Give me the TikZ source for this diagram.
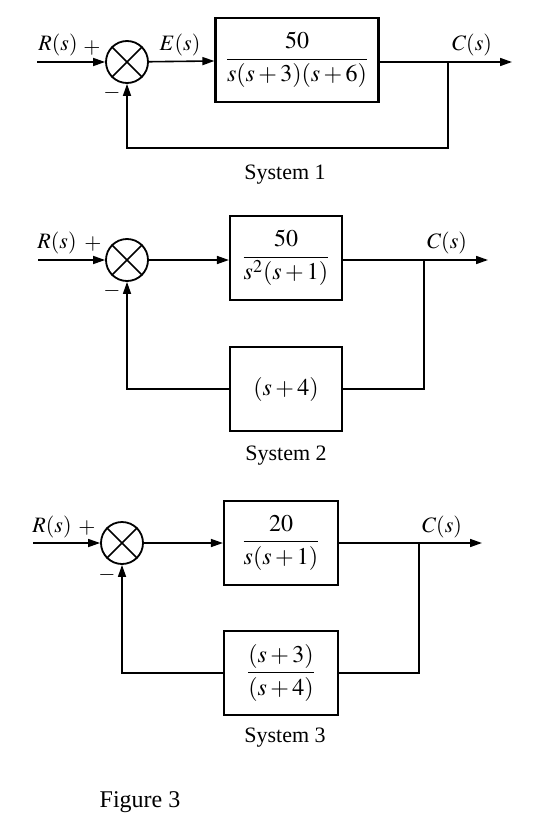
\documentclass[tikz,border=0pt]{standalone}
\usepackage{amsmath}
\usepackage{mathptmx}
\usepackage[no-math]{fontspec}
\setmainfont{Liberation Serif}
\usetikzlibrary{arrows.meta}

\tikzset{
  blk/.style={draw, line width=1.1pt, minimum width=#1, minimum height=42pt, inner sep=0pt, font=\large},
  sumnode/.style={draw, circle, line width=0.9pt, minimum size=21pt, inner sep=0pt},
  arr/.style={-{Triangle[length=6pt,width=4pt]}},
  wire/.style={line width=0.8pt}
}

\begin{document}
\begin{tikzpicture}[x=0.5pt, y=-0.5pt, line join=miter, font=\fontsize{11}{13}\selectfont]
  \useasboundingbox (0,0) rectangle (545,829);

  % System 1
  \coordinate (in1) at (37,62);
  \node[sumnode] (s1) at (127,62) {};
  \draw[wire] (s1.north east) -- (s1.south west) (s1.north west) -- (s1.south east);
  \node[blk=81.5pt] (g1) at (297,60) {$\dfrac{50}{s(s+3)(s+6)}$};
  \coordinate (t1) at (448,62);
  \coordinate (out1) at (512,62);
  \coordinate (fb1) at (448,148);
  \draw[wire,arr] (in1) -- (s1);
  \draw[wire,arr] (s1) -- (g1);
  \draw[wire] (g1.east |- t1) -- (t1);
  \draw[wire,arr] (t1) -- (out1);
  \draw[wire,arr] (t1) -- (fb1) -| (s1.south);
  \node (r1) at (58,45) {$R(s)$};
  \node (p1) at (92,48) {$+$};
  \node (m1) at (112,93) {$-$};
  \node (e1) at (180,45) {$E(s)$};
  \node (c1) at (472,45) {$C(s)$};
  \node (n1) at (285,175) {System 1};

  % System 2
  \coordinate (in2) at (38,260);
  \node[sumnode] (s2) at (127,260) {};
  \draw[wire] (s2.north east) -- (s2.south west) (s2.north west) -- (s2.south east);
  \node[blk=56pt] (g2) at (286,258) {$\dfrac{50}{s^2(s+1)}$};
  \node[blk=56pt] (h2) at (286,389) {$(s+4)$};
  \coordinate (t2) at (424,260);
  \coordinate (out2) at (488,260);
  \draw[wire,arr] (in2) -- (s2);
  \draw[wire,arr] (s2) -- (g2.west |- s2);
  \draw[wire] (g2.east |- t2) -- (t2);
  \draw[wire,arr] (t2) -- (out2);
  \draw[wire] (t2) |- (h2.east);
  \draw[wire,arr] (h2.west) -| (s2.south);
  \node (r2) at (57,243) {$R(s)$};
  \node (p2) at (93,244) {$+$};
  \node (m2) at (112,291) {$-$};
  \node (c2) at (447,243) {$C(s)$};
  \node (n2) at (286,456) {System 2};

  % System 3
  \coordinate (in3) at (33,543);
  \node[sumnode] (s3) at (122,543) {};
  \draw[wire] (s3.north east) -- (s3.south west) (s3.north west) -- (s3.south east);
  \node[blk=57pt] (g3) at (281,543) {$\dfrac{20}{s(s+1)}$};
  \node[blk=57pt] (h3) at (281,673) {$\dfrac{(s+3)}{(s+4)}$};
  \coordinate (t3) at (419,543);
  \coordinate (out3) at (482,543);
  \draw[wire,arr] (in3) -- (s3);
  \draw[wire,arr] (s3) -- (g3);
  \draw[wire] (g3) -- (t3);
  \draw[wire,arr] (t3) -- (out3);
  \draw[wire] (t3) |- (h3.east);
  \draw[wire,arr] (h3.west) -| (s3.south);
  \node (r3) at (52,527) {$R(s)$};
  \node (p3) at (87,528) {$+$};
  \node (m3) at (107,575) {$-$};
  \node (c3) at (442,527) {$C(s)$};
  \node (n3) at (285,738) {System 3};

  \node[font=\large] (fig) at (140,802) {Figure 3};
\end{tikzpicture}
\end{document}
